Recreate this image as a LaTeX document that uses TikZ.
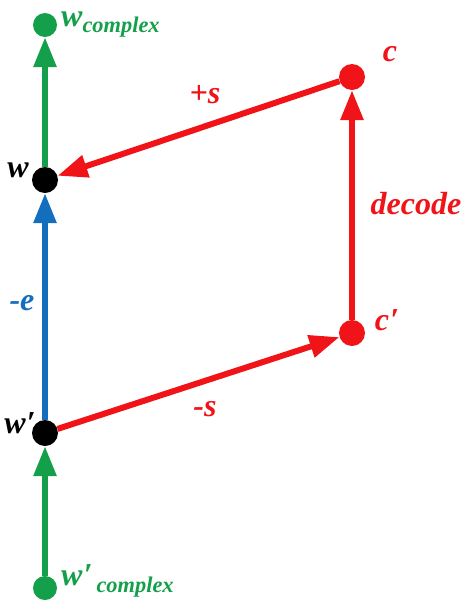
\documentclass[tikz,border=0pt]{standalone}
\usepackage{fontspec}
\setmainfont{Liberation Serif}
\usetikzlibrary{arrows.meta}
\definecolor{mygreen}{RGB}{20,160,75}
\definecolor{myred}{RGB}{240,20,25}
\definecolor{myblue}{RGB}{20,110,190}
\newcommand{\myprime}{\kern1pt′}
\begin{document}
\begin{tikzpicture}[x=1pt,y=-1pt,
  dot/.style={circle,fill=#1,inner sep=0pt,minimum size=26pt},
  arr/.style={draw=#1,line width=6pt,-{Triangle[width=22pt,length=30pt]},color=#1},
  lab/.style={font=\fontsize{32}{34}\selectfont\bfseries\itshape,text=#1,inner sep=0pt}]
\useasboundingbox (0,0) rectangle (474,606);
\node[dot=mygreen,minimum size=24pt] (wc) at (45,25) {};
\node[dot=black] (w) at (45,180) {};
\node[dot=black] (wp) at (45,433) {};
\node[dot=mygreen,minimum size=24pt] (wpc) at (45,588) {};
\node[dot=myred] (c) at (352,77) {};
\node[dot=myred] (cp) at (352,333) {};
\draw[arr=mygreen] (w) -- (wc);
\draw[arr=myblue] (wp) -- (w);
\draw[arr=mygreen] (wpc) -- (wp);
\draw[arr=myred] (c) -- (w);
\draw[arr=myred] (cp) -- (c);
\draw[arr=myred] (wp) -- (cp);
\node[lab=mygreen,anchor=base west] (lwc) at (61,26) {w\textsubscript{complex}};
\node[lab=black] (lw) at (18,170) {w};
\node[lab=black] (lwp) at (20,423) {w\myprime};
\node[lab=mygreen,anchor=west] (lwpc) at (61,581) {w\myprime\kern4pt\textsubscript{complex}};
\node[lab=myred] (lc) at (390,54) {c};
\node[lab=myred] (lcp) at (387,320) {c\myprime};
\node[lab=myred] (lps) at (205,95) {+s};
\node[lab=myred] (lms) at (205,409) {-s};
\node[lab=myred] (ld) at (416,204) {decode};
\node[lab=myblue] (le) at (22,303) {-e};
\end{tikzpicture}
\end{document}
